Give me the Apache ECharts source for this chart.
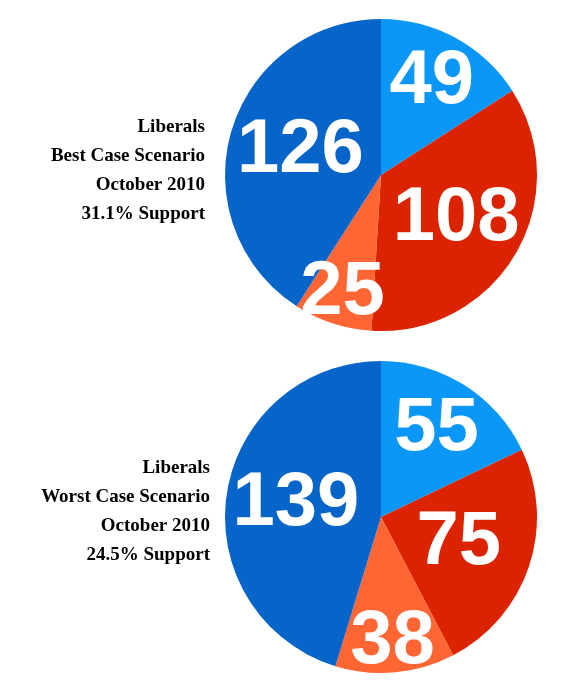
<!DOCTYPE html>
<html>
<head>
<meta charset="UTF-8">
<script src="https://cdn.jsdelivr.net/npm/echarts@6/dist/echarts.min.js"></script>
<style>html,body{margin:0;background:#fff}#c{width:575px;height:691px}</style>
</head>
<body>
<div id="c"></div>
<script>
var names = ['A', 'B', 'C', 'D'];
var bestValues = [49, 108, 25, 126];
var worstValues = [55, 75, 38, 139];
var colors = ['#0a97f7', '#dc2300', '#ff6633', '#0765c9'];
var bestTitle = 'Liberals\nBest Case Scenario\nOctober 2010\n31.1% Support';
var worstTitle = 'Liberals\nWorst Case Scenario\nOctober 2010\n24.5% Support';

function dataOf(values) {
    return values.map(function (v, i) { return {name: names[i], value: v}; });
}
function pie(values, cy, labelRadius) {
    var list = [{
        type: 'pie', center: [381, cy], radius: 156, startAngle: 90, silent: true,
        label: {show: false}, labelLine: {show: false}, data: dataOf(values)
    }];
    // transparent copies, one per slice, just to place each label
    labelRadius.forEach(function (r, k) {
        var d = dataOf(values);
        d.forEach(function (item, i) { item.label = {show: i === k}; });
        list.push({
            type: 'pie', center: [381, cy], radius: r, startAngle: 90, silent: true,
            itemStyle: {color: 'rgba(0,0,0,0)'},
            label: {position: 'inner', formatter: '{c}', color: '#fff', fontSize: 76,
                fontWeight: 'bold', fontFamily: 'Liberation Sans'},
            labelLine: {show: false}, data: d
        });
    });
    return list;
}
var titleStyle = {fontFamily: 'Liberation Serif', fontWeight: 'bold', fontSize: 19, lineHeight: 29, fill: '#000', textAlign: 'right'};
var chart = echarts.init(document.getElementById('c'));
chart.setOption({
    animation: false,
    color: colors,
    graphic: [
        {type: 'text', x: 205, y: 113, style: Object.assign({text: bestTitle}, titleStyle)},
        {type: 'text', x: 210, y: 454, style: Object.assign({text: worstTitle}, titleStyle)}
    ],
    series: pie(bestValues, 175, [206, 168, 242, 162]).concat(pie(worstValues, 517, [202, 158, 246, 166]))
});
</script>
</body>
</html>
